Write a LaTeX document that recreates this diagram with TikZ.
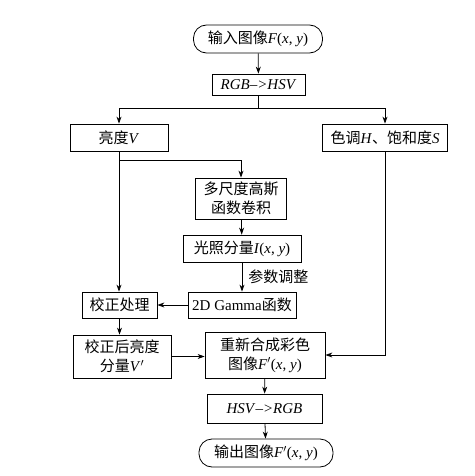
\documentclass[tikz,border=0pt]{standalone}
\usepackage{fontspec}
\usepackage{tikz}
\usetikzlibrary{arrows.meta,positioning}
\setmainfont{Liberation Serif}
\newfontfamily\cjk{Noto Sans CJK SC}
\newcommand{\zh}[1]{{\cjk #1}}
\newcommand{\vi}[1]{\textit{#1}}
\tikzset{
  box/.style={draw=black, line width=0.8pt, align=center, inner sep=0pt, font=\fontsize{15}{19}\selectfont},
  term/.style={box, rounded corners=13pt},
  flow/.style={draw=black, line width=0.8pt, -{Stealth[length=7pt,width=5pt]}},
  link/.style={draw=black, line width=0.8pt},
  lab/.style={font=\fontsize{15}{17}\selectfont, anchor=west, inner sep=0pt},
}

\begin{document}
\begin{tikzpicture}[x=1pt,y=-1pt]
  \useasboundingbox (0,0) rectangle (474,476);
  % boxes
  \node[term, minimum width=129pt, minimum height=28pt] (in) at (258,39) {\zh{输入图像}\vi{F}(\vi{x}, \vi{y})};
  \node[box, minimum width=93pt, minimum height=21pt] (rgb) at (258.5,84.5) {\vi{RGB}--\vi{>HSV}};
  \node[box, minimum width=98pt, minimum height=27pt] (V) at (119,137.5) {\zh{亮度}\vi{V}};
  \node[box, minimum width=125pt, minimum height=27pt] (HS) at (385,137.5) {\zh{色调}\vi{H}\zh{、饱和度}\vi{S}};
  \node[box, minimum width=91pt, minimum height=41pt] (ms) at (241,198.5) {\zh{多尺度高斯}\\\zh{函数卷积}};
  \node[box, minimum width=118pt, minimum height=27pt] (il) at (242,248.5) {\zh{光照分量}\vi{I}(\vi{x}, \vi{y})};
  \node[box, minimum width=108pt, minimum height=26pt] (gam) at (242,305) {2D Gamma\zh{函数}};
  \node[box, minimum width=75pt, minimum height=26pt] (cor) at (119.5,305) {\zh{校正处理}};
  \node[box, minimum width=98pt, minimum height=43pt] (cv) at (122,356.5) {\zh{校正后亮度}\\\zh{分量}\vi{V}$'$};
  \node[box, minimum width=120pt, minimum height=46pt] (rec) at (265,355) {\zh{重新合成彩色}\\\zh{图像}\vi{F}$'$(\vi{x}, \vi{y})};
  \node[box, minimum width=115pt, minimum height=29pt] (hr) at (264.5,408.5) {\vi{HSV}--\vi{>RGB}};
  \node[term, minimum width=134pt, minimum height=28pt] (out) at (266,453) {\zh{输出图像}\vi{F}$'$(\vi{x}, \vi{y})};
  % connectors
  \coordinate (sp) at (258.5,108);
  \coordinate (br) at (119,160);
  \draw[flow] (in) -- (rgb);
  \draw[link] (rgb) -- (sp);
  \draw[flow] (sp) -| (V);
  \draw[flow] (sp) -| (HS);
  \draw[flow] (V.south) -- (V.south |- cor.north);
  \draw[flow] (br) -| (ms);
  \draw[flow] (ms) -- (il);
  \draw[flow] (il) -- node[lab, xshift=6pt] (par) {\zh{参数调整}} (gam);
  \draw[flow] (gam) -- (cor);
  \draw[flow] (cor.south) -- (cor.south |- cv.north);
  \draw[flow] (cv) -- (cv -| rec.west);
  \draw[flow] (HS.south) |- (rec.east);
  \draw[flow] (rec) -- (hr);
  \draw[flow] (hr) -- (out);
\end{tikzpicture}
\end{document}
